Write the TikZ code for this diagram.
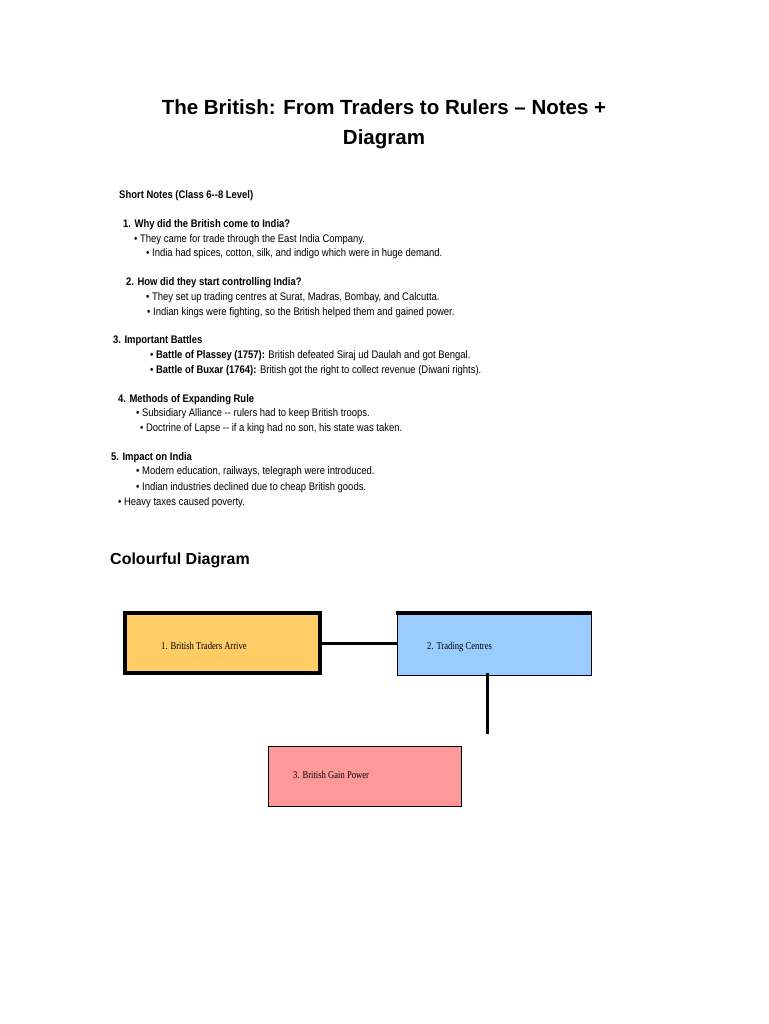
\documentclass[tikz,border=0pt]{standalone}
\usepackage{fontspec}
\setmainfont{Liberation Sans}
\newfontfamily\notefont[FakeStretch=0.86]{Liberation Sans}
\newfontfamily\boxfont[FakeStretch=0.82]{Liberation Serif}
\begin{document}
\begin{tikzpicture}[x=1pt,y=-1pt,
  txt/.style={anchor=west,inner sep=0pt,font=\notefont\fontsize{11}{13}\selectfont},
  head/.style={txt,font=\notefont\bfseries\fontsize{11}{13}\selectfont},
  lbl/.style={anchor=west,inner sep=0pt,font=\boxfont\fontsize{10.5}{12}\selectfont},
  conn/.style={line width=3pt}]
\useasboundingbox[fill=white] (0,0) rectangle (768,1024);
\node[font=\bfseries\fontsize{20.5}{30}\selectfont,align=center] (title) at (384,124) {The British: From Traders to Rulers -- Notes +\\Diagram};
\node[head] (sn) at (119,196) {Short Notes (Class 6--8 Level)};
\node[head] (q1) at (123,225) {1. Why did the British come to India?};
\node[txt] (a1) at (134,240) {\textbullet\ They came for trade through the East India Company.};
\node[txt] (a2) at (146,254) {\textbullet\ India had spices, cotton, silk, and indigo which were in huge demand.};
\node[head] (q2) at (126,283) {2. How did they start controlling India?};
\node[txt] (b1) at (146,298) {\textbullet\ They set up trading centres at Surat, Madras, Bombay, and Calcutta.};
\node[txt] (b2) at (147,313) {\textbullet\ Indian kings were fighting, so the British helped them and gained power.};
\node[head] (q3) at (113,341) {3. Important Battles};
\node[txt] (c1) at (150,356) {\textbullet\ \textbf{Battle of Plassey (1757):} British defeated Siraj ud Daulah and got Bengal.};
\node[txt] (c2) at (150,371) {\textbullet\ \textbf{Battle of Buxar (1764):} British got the right to collect revenue (Diwani rights).};
\node[head] (q4) at (118,400) {4. Methods of Expanding Rule};
\node[txt] (d1) at (136,414) {\textbullet\ Subsidiary Alliance -- rulers had to keep British troops.};
\node[txt] (d2) at (140,429) {\textbullet\ Doctrine of Lapse -- if a king had no son, his state was taken.};
\node[head] (q5) at (111,458) {5. Impact on India};
\node[txt] (e1) at (136,472) {\textbullet\ Modern education, railways, telegraph were introduced.};
\node[txt] (e2) at (136,488) {\textbullet\ Indian industries declined due to cheap British goods.};
\node[txt] (e3) at (118,503) {\textbullet\ Heavy taxes caused poverty.};
\node[anchor=west,inner sep=0pt,font=\bfseries\fontsize{16}{18}\selectfont] (cd) at (110,560) {Colourful Diagram};
% boxes
\fill[fill={rgb,255:red,255;green,204;blue,102}] (125,613) rectangle (320,673);
\draw[line width=4pt] (125,613) rectangle (320,673);
\node[lbl] (t1) at (161,646) {1. British Traders Arrive};
\coordinate (b1r) at (320,643);
\fill[fill={rgb,255:red,153;green,204;blue,255}] (397,613) rectangle (591,675);
\draw[line width=1pt] (397,613) rectangle (591,675);
\draw[line width=3.5pt] (396,613) -- (592,613);
\node[lbl] (t2) at (427,647) {2. Trading Centres};
\coordinate (b2l) at (397,643);
\coordinate (b2b) at (487,673);
\coordinate (vend) at (487,734);
\fill[fill={rgb,255:red,255;green,153;blue,153}] (268,746) rectangle (461,806);
\draw[line width=0.8pt] (268,746) rectangle (461,806);
\node[lbl] (t3) at (293,775) {3. British Gain Power};
\draw[conn] (b1r) -- (b2l);
\draw[conn] (b2b) -- (vend);
\end{tikzpicture}
\end{document}
